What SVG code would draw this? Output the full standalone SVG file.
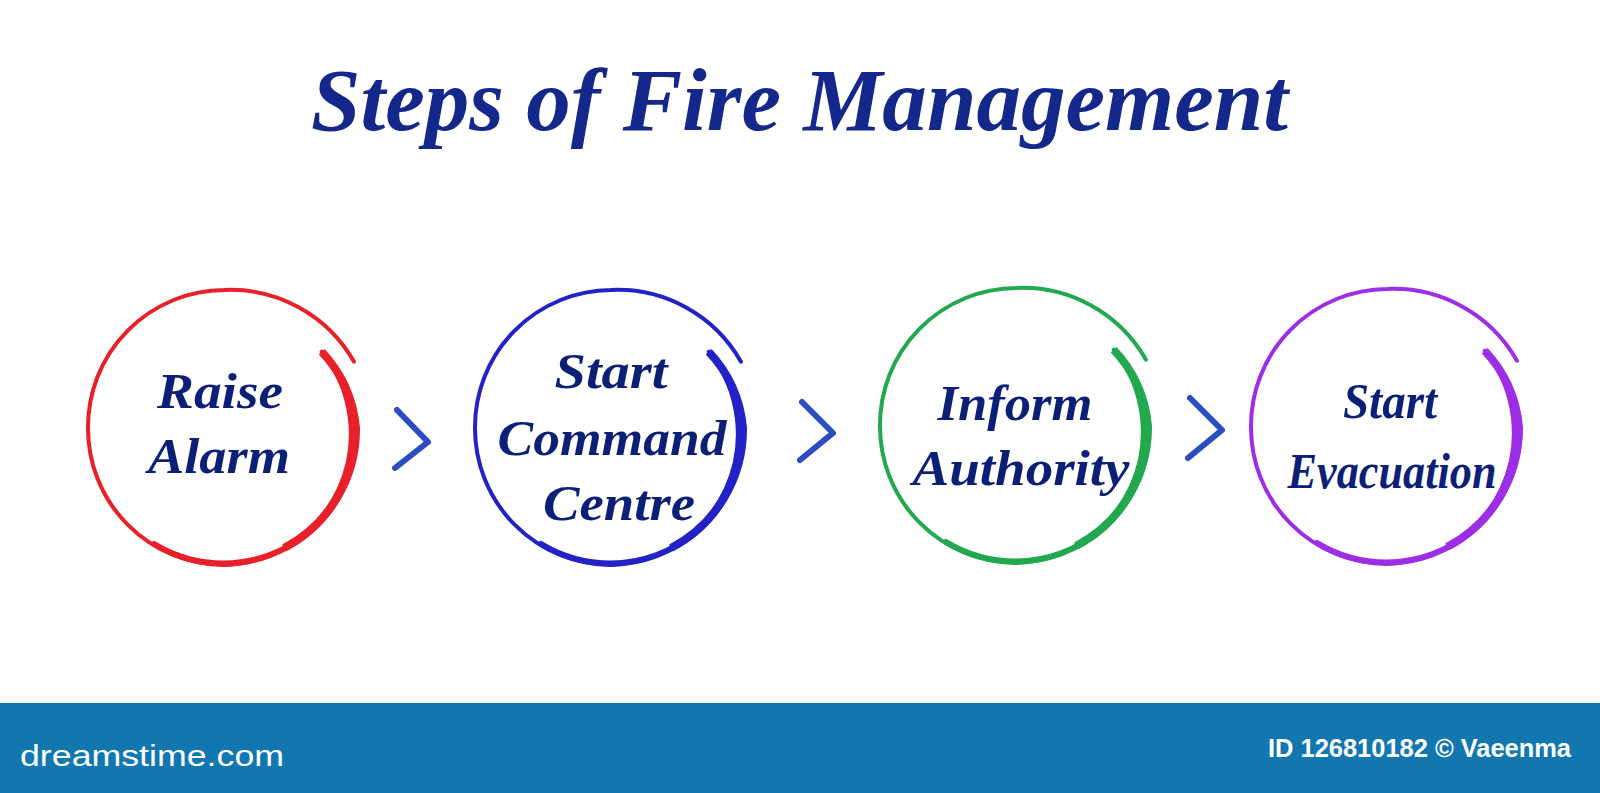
<svg xmlns="http://www.w3.org/2000/svg" width="1600" height="793" viewBox="0 0 1600 793">
<style>
.lbl{font-family:"Liberation Serif","Times New Roman",serif;font-style:italic;font-weight:bold;font-size:50px;fill:#0c1f77;text-anchor:middle}
.title{font-family:"Liberation Serif","Times New Roman",serif;font-style:italic;font-weight:bold;font-size:88px;fill:#13288a}
.ring{fill:none;stroke-width:4;stroke-linecap:round}
.ringthick{fill:none;stroke-width:8;stroke-linecap:butt}
.ringmid{fill:none;stroke-width:6;stroke-linecap:round}
.chev{fill:none;stroke:#2c4dc0;stroke-width:6;stroke-linecap:round;stroke-linejoin:round}
.foot{font-family:"Liberation Sans",Arial,sans-serif;fill:#ffffff}
</style>
<defs>
<path id="loop" d="M97.7,-76.3 A131,131 0 0 1 0,137 A136.5,136.5 0 0 1 -136,0 A137,137 0 0 1 0,-138 A142,142 0 0 1 130,-66.3"/>
<path id="thick" d="M97.7,-76.3 A128,128 0 0 1 132,0 A134,134 0 0 1 60,120"/>
<path id="mid" d="M131,20 A133,133 0 0 1 0,135.5 A136,136 0 0 1 -70,116"/>
</defs>
<rect x="0" y="0" width="1600" height="793" fill="#ffffff"/>
<text class="title" x="311" y="130" textLength="977" lengthAdjust="spacingAndGlyphs">Steps of Fire Management</text>

<g id="node-raise-alarm" transform="translate(224,428)">
<use href="#loop" class="ring" stroke="#e8202a"/>
<use href="#thick" class="ringthick" stroke="#e8202a"/>
<use href="#mid" class="ringmid" stroke="#e8202a"/>
<text class="lbl" x="-4" y="-20" textLength="126" lengthAdjust="spacingAndGlyphs">Raise</text>
<text class="lbl" x="-5" y="45" textLength="142" lengthAdjust="spacingAndGlyphs">Alarm</text>
</g>

<g id="node-start-command-centre" transform="translate(611,428)">
<use href="#loop" class="ring" stroke="#2222c6"/>
<use href="#thick" class="ringthick" stroke="#2222c6"/>
<use href="#mid" class="ringmid" stroke="#2222c6"/>
<text class="lbl" x="0" y="-40" textLength="113" lengthAdjust="spacingAndGlyphs">Start</text>
<text class="lbl" x="1" y="27" textLength="229" lengthAdjust="spacingAndGlyphs">Command</text>
<text class="lbl" x="8" y="92" textLength="152" lengthAdjust="spacingAndGlyphs">Centre</text>
</g>

<g id="node-inform-authority" transform="translate(1016,426)">
<use href="#loop" class="ring" stroke="#22a84e"/>
<use href="#thick" class="ringthick" stroke="#22a84e"/>
<use href="#mid" class="ringmid" stroke="#22a84e"/>
<text class="lbl" x="-1" y="-6" textLength="155" lengthAdjust="spacingAndGlyphs">Inform</text>
<text class="lbl" x="5" y="59" textLength="217" lengthAdjust="spacingAndGlyphs">Authority</text>
</g>

<g id="node-start-evacuation" transform="translate(1387,427)">
<use href="#loop" class="ring" stroke="#9e2ee6"/>
<use href="#thick" class="ringthick" stroke="#9e2ee6"/>
<use href="#mid" class="ringmid" stroke="#9e2ee6"/>
<text class="lbl" x="3" y="-9" textLength="94" lengthAdjust="spacingAndGlyphs">Start</text>
<text class="lbl" x="5" y="61" textLength="209" lengthAdjust="spacingAndGlyphs">Evacuation</text>
</g>

<g id="connectors">
<polyline class="chev" points="397,410 428,442 395,468"/>
<polyline class="chev" points="802,402 833,433 800,460"/>
<polyline class="chev" points="1190,398 1222,430 1188,458"/>
</g>

<rect x="0" y="703" width="1600" height="90" fill="#1277ae"/>
<text class="foot" x="20" y="766" font-size="30" textLength="264" lengthAdjust="spacingAndGlyphs">dreamstime.com</text>
<text class="foot" x="1268" y="757" font-size="25" font-weight="bold" textLength="303" lengthAdjust="spacingAndGlyphs">ID 126810182 © Vaeenma</text>
</svg>
